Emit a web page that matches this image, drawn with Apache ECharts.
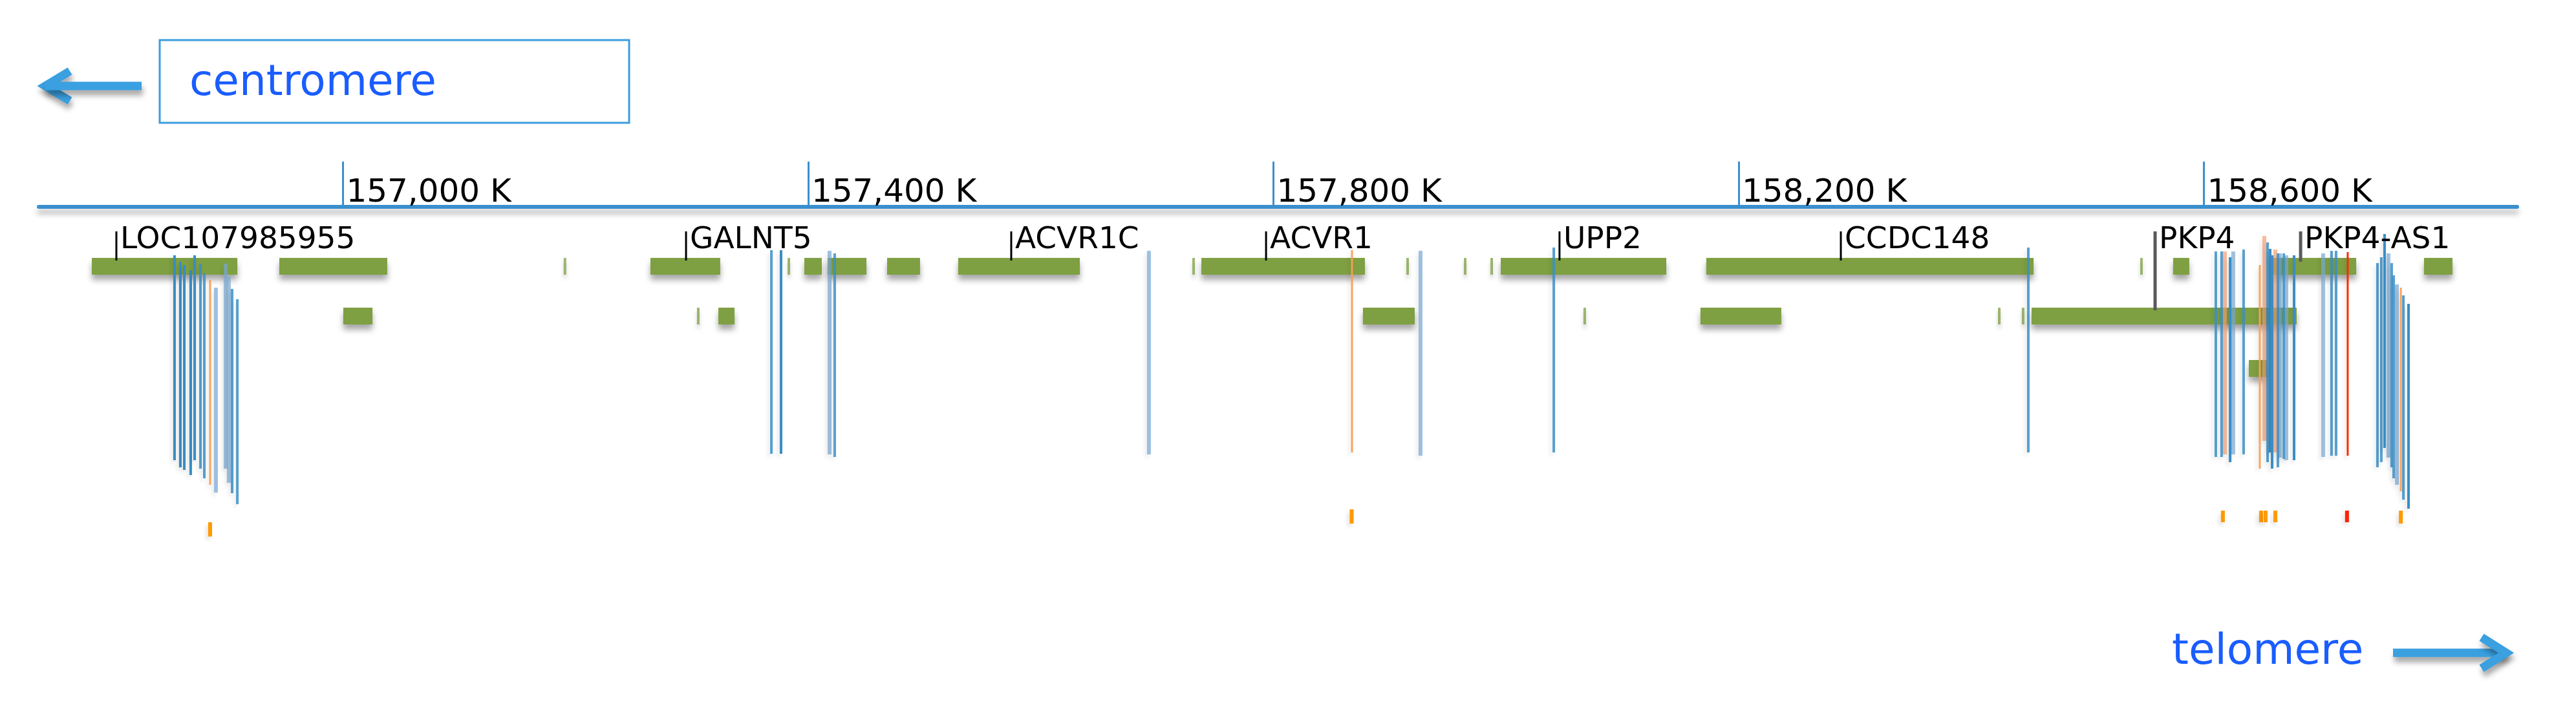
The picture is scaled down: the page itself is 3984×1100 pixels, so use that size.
<!DOCTYPE html>
<html><head><meta charset="utf-8">
<script src="https://cdn.jsdelivr.net/npm/echarts@6/dist/echarts.min.js"></script>
<style>html,body{margin:0;padding:0;background:#fff}#c{width:3984px;height:1100px}</style>
</head><body><div id="c"></div>
<script>
// ---------- DATA (genomic position in K; depth in track units) ----------
const tickValues = [157000, 157400, 157800, 158200, 158600];
const axisMin = 156738.5, axisMax = 158869.4;

const geneNames = ['LOC107985955', 'GALNT5', 'ACVR1C', 'ACVR1', 'UPP2', 'CCDC148', 'PKP4', 'PKP4-AS1'];
const genePositions = [156805.2, 157295.0, 157574.6, 157793.7, 158046.0, 158287.9, 158558.1, 158683.2];
const geneTickEnds = [8.3, 8.3, 8.3, 8.3, 8.3, 8.3, 16.0, 8.5];

// gene blocks [start, end] on three tracks
const track1Blocks = [
  [156784.1, 156909.2], [156945.3, 157038.1], [157264.4, 157324.4], [157396.7, 157411.7],
  [157416.7, 157450.1], [157467.9, 157496.2], [157529.0, 157633.6], [157738.1, 157878.7],
  [157995.5, 158137.8], [158172.2, 158453.6], [158573.6, 158587.5], [158659.3, 158731.0],
  [158789.3, 158813.8]
];
const track2Blocks = [
  [157000.3, 157025.4], [157322.8, 157336.7], [157877.0, 157921.5], [158167.2, 158236.7],
  [158451.9, 158679.8]
];
const track3Blocks = [[158638.7, 158654.2]];
// single narrow exons
const track1Exons = [157190.9, 157383.4, 157731.4, 157915.4, 157964.9, 157987.7, 158546.4];
const track2Exons = [157305.5, 158067.7, 158424.1, 158444.6];
const trackDepths = [9.2, 16.9, 25.0];

// vertical variant lines [position, top depth, bottom depth]
const strongLines = [
  [156855.2, 7.5, 39.2], [156860.2, 8.5, 40.3], [156863.6, 9.0, 40.7], [156869.1, 9.8, 41.5],
  [156872.5, 7.5, 39.2], [157376.7, 6.7, 38.2], [158622.6, 7.8, 39.5], [158657.0, 6.5, 38.0],
  [158658.7, 7.5, 40.5], [158677.6, 7.5, 39.2], [158755.4, 4.2, 37.3], [158776.0, 15.0, 46.7]
];
const mediumLines = [
  [156877.5, 8.8, 40.5], [156880.8, 10.3, 42.0], [156904.7, 12.7, 44.3], [156909.2, 14.3, 46.0],
  [157368.4, 6.7, 38.2], [157422.8, 7.2, 38.7], [158041.1, 6.3, 38.0], [158449.1, 6.3, 38.0],
  [158610.3, 6.9, 38.7], [158615.3, 6.9, 38.7], [158634.2, 6.6, 38.3], [158654.8, 5.5, 39.5],
  [158663.7, 7.2, 40.3], [158668.7, 7.2, 39.0], [158709.8, 6.8, 38.5], [158713.7, 6.8, 38.5],
  [158749.3, 8.7, 40.3], [158752.6, 7.8, 39.5], [158761.5, 8.7, 40.3], [158763.2, 10.6, 42.0],
  [158771.6, 13.7, 45.3]
];
const paleLines = [
  [156890.8, 12.5, 44.2], [156899.2, 8.8, 40.5], [156901.9, 10.8, 42.7], [157418.4, 6.8, 38.3],
  [157693.0, 6.8, 38.3], [157926.5, 6.8, 38.5], [158625.3, 6.9, 38.3], [158665.4, 7.2, 38.8],
  [158670.9, 7.5, 39.2], [158702.6, 7.2, 38.7], [158758.7, 7.2, 38.8], [158766.0, 12.0, 43.0]
];
const orangeLines = [
  [156885.8, 11.3, 43.0], [157867.6, 6.7, 38.0], [158648.1, 9.0, 40.5], [158769.4, 12.5, 44.0]
];
const salmonLines = [
  [158618.1, 6.9, 38.3], [158652.0, 4.5, 36.2], [158661.5, 6.6, 38.0]
];
const redLines = [[158723.7, 7.0, 38.5]];

// short markers at the bottom [position, top depth, bottom depth]
const orangeMarkers = [
  [156885.8, 48.8, 51.0], [157867.3, 46.8, 49.0], [158616.4, 47.0, 48.8], [158649.2, 47.0, 48.8],
  [158653.1, 47.0, 48.8], [158661.5, 47.0, 48.8], [158769.4, 47.0, 49.0]
];
const redMarkers = [[158723.1, 47.0, 48.8]];

// ---------- STYLE ----------
const GREEN = '#7ea042';
const AXIS_BLUE = '#3a8fce';
const FONT = '"DejaVu Sans", sans-serif';
const GENE_TICK_TOP = 3.8;
const GENE_LABEL_DEPTH = 5.2;
const grayTickGenes = ['PKP4', 'PKP4-AS1'];

const chart = echarts.init(document.getElementById('c'), null, {renderer: 'canvas'});

function blockSeries(data, depth) {
  return {
    type: 'custom', z: 2, silent: true,
    data: data.map(d => [d[0], d[1], depth]),
    encode: {x: [0, 1], y: 2},
    renderItem: (params, api) => {
      const a = api.coord([api.value(0), api.value(2)]);
      const b = api.coord([api.value(1), api.value(2)]);
      return {type: 'rect', shape: {x: a[0], y: a[1] - 13, width: Math.max(b[0] - a[0], 2), height: 26},
        style: {fill: GREEN, shadowBlur: 10, shadowColor: 'rgba(0,0,0,0.35)', shadowOffsetY: 8}};
    }
  };
}
function exonSeries(data, depth) {
  return {
    type: 'custom', z: 2, silent: true,
    data: data.map(d => [d, depth]),
    encode: {x: 0, y: 1},
    renderItem: (params, api) => {
      const a = api.coord([api.value(0), api.value(1)]);
      return {type: 'rect', shape: {x: a[0] - 2, y: a[1] - 13, width: 4, height: 26},
        style: {fill: GREEN, opacity: 0.75, shadowBlur: 6, shadowColor: 'rgba(0,0,0,0.25)', shadowOffsetY: 6}};
    }
  };
}
function lineSeries(data, fill, width, z) {
  return {
    type: 'custom', z: z, silent: true,
    data: data,
    encode: {x: 0, y: [1, 2]},
    renderItem: (params, api) => {
      const a = api.coord([api.value(0), api.value(1)]);
      const b = api.coord([api.value(0), api.value(2)]);
      return {type: 'rect', shape: {x: a[0] - width / 2, y: a[1], width: width, height: b[1] - a[1]},
        style: {fill: fill, shadowBlur: 6, shadowColor: 'rgba(0,0,0,0.12)', shadowOffsetY: 5, shadowOffsetX: -3}};
    }
  };
}

const geneSeries = {
  type: 'custom', z: 5, silent: true,
  data: genePositions.map((p, i) => [p, geneTickEnds[i]]),
  encode: {x: 0, y: 1},
  renderItem: (params, api) => {
    const i = params.dataIndex;
    const top = api.coord([api.value(0), GENE_TICK_TOP]);
    const bot = api.coord([api.value(0), api.value(1)]);
    const lab = api.coord([api.value(0), GENE_LABEL_DEPTH]);
    const gray = grayTickGenes.indexOf(geneNames[i]) >= 0;
    const w = gray ? 5 : 3;
    return {type: 'group', children: [
      {type: 'rect', shape: {x: top[0] - w / 2, y: top[1], width: w, height: bot[1] - top[1]},
        style: {fill: gray ? '#5a5a5a' : '#000'}},
      {type: 'text', x: top[0] + 6, y: lab[1],
        style: {text: geneNames[i], font: '47px ' + FONT, fill: '#000', align: 'left', verticalAlign: 'middle'}}
    ]};
  }
};

const series = [
  blockSeries(track1Blocks, trackDepths[0]),
  blockSeries(track2Blocks, trackDepths[1]),
  blockSeries(track3Blocks, trackDepths[2]),
  exonSeries(track1Exons, trackDepths[0]),
  exonSeries(track2Exons, trackDepths[1]),
  lineSeries(paleLines, 'rgba(120,168,212,0.7)', 6, 3),
  lineSeries(salmonLines, 'rgba(247,160,115,0.7)', 6, 3),
  lineSeries(mediumLines, 'rgba(58,143,200,0.85)', 4, 4),
  lineSeries(strongLines, '#3a8dc5', 4, 4),
  lineSeries(orangeLines, 'rgba(250,160,85,0.95)', 3, 4),
  lineSeries(redLines, '#ff2a00', 3, 4),
  lineSeries(orangeMarkers, '#ff9a00', 6, 4),
  lineSeries(redMarkers, '#ff2200', 6, 4),
  geneSeries
];

const arrowStyle = {stroke: '#3aa0e0', lineWidth: 13, fill: null, lineJoin: 'miter',
  shadowBlur: 8, shadowColor: 'rgba(0,0,0,0.35)', shadowOffsetY: 8, shadowOffsetX: 2};

chart.setOption({
  animation: false,
  backgroundColor: '#fff',
  grid: {left: 60, right: 91, top: 320, height: 600},
  xAxis: {
    type: 'value', position: 'top', min: axisMin, max: axisMax,
    axisLine: {show: true, onZero: false, lineStyle: {color: AXIS_BLUE, width: 6,
      shadowBlur: 8, shadowColor: 'rgba(0,0,0,0.3)', shadowOffsetY: 8}},
    axisTick: {show: true, customValues: tickValues, length: 70, lineStyle: {color: AXIS_BLUE, width: 3}},
    axisLabel: {show: true, customValues: tickValues, margin: -4, align: 'left', padding: [0, 0, 0, 5],
      color: '#000', fontFamily: 'DejaVu Sans', fontSize: 50,
      formatter: v => echarts.format.addCommas(v) + ' K'},
    splitLine: {show: false}
  },
  yAxis: {type: 'value', min: 0, max: 60, inverse: true, show: false},
  series: series,
  graphic: [
    {type: 'rect', shape: {x: 247, y: 62, width: 726, height: 128},
      style: {stroke: '#3b9ddd', lineWidth: 3, fill: '#fff'}},
    {type: 'text', x: 293, y: 130, style: {text: 'centromere', font: '66px ' + FONT, fill: '#1a5dff', verticalAlign: 'middle'}},
    {type: 'polyline', shape: {points: [[108, 110], [70, 133], [108, 156]]}, style: arrowStyle},
    {type: 'line', shape: {x1: 70, y1: 133, x2: 219, y2: 133}, style: arrowStyle},
    {type: 'text', x: 3359, y: 1010, style: {text: 'telomere', font: '66px ' + FONT, fill: '#1a5dff', verticalAlign: 'middle'}},
    {type: 'line', shape: {x1: 3701, y1: 1010, x2: 3876, y2: 1010}, style: arrowStyle},
    {type: 'polyline', shape: {points: [[3838, 986], [3876, 1010], [3838, 1034]]}, style: arrowStyle}
  ]
});
</script></body></html>
